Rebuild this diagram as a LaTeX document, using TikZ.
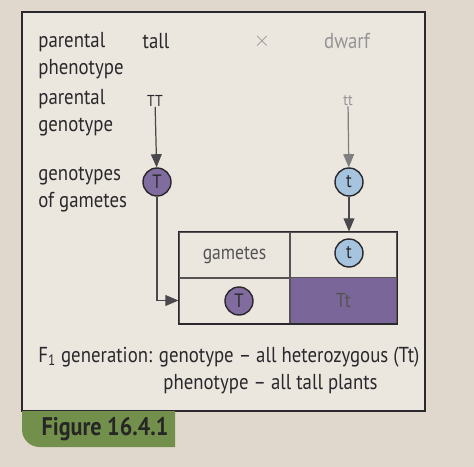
\documentclass[tikz,border=0pt]{standalone}
\usepackage{fontspec}
\setmainfont{PT Sans}[FakeStretch=0.87]
\usepackage{tikz}
\usepackage{xcolor}
\usetikzlibrary{arrows,positioning}

\definecolor{paper}{RGB}{224,216,204}
\definecolor{boxbg}{RGB}{235,230,222}
\definecolor{ink}{RGB}{42,40,44}
\definecolor{purp}{RGB}{128,108,158}
\definecolor{cellpurp}{RGB}{122,102,152}
\definecolor{lblue}{RGB}{166,196,222}
\definecolor{tabgreen}{RGB}{114,144,76}

\tikzset{
  lbl/.style={font=\fontsize{12.3}{15.4}\selectfont, align=left, text=ink, inner sep=0pt},
  faint/.style={lbl, text=ink!50},
  gam/.style={circle, draw=ink, line width=0.8pt, minimum size=0.56cm, inner sep=0pt,
    font=\fontsize{11}{13}\selectfont, text=ink},
  cell/.style={draw=ink!80, line width=0.6pt, minimum width=2.2cm, minimum height=0.92cm, inner sep=0pt,
    font=\fontsize{11.5}{13}\selectfont, text=ink!80},
  arr/.style={-triangle 45, draw=ink!85, line width=0.7pt}
}

\begin{document}
\begin{tikzpicture}[x=0.02cm,y=-0.02cm]
\useasboundingbox (0,0) rectangle (474,467);
\fill[paper] (0,0) rectangle (474,467);

\filldraw[draw=ink, line width=0.9pt, fill=boxbg] (22,12) rectangle (425,411);
\fill[tabgreen] (175,411) -- (175,447) [rounded corners=0.35cm] -- (22,447) [sharp corners] -- (22,411) -- cycle;
\node[font=\fontsize{14.5}{16}\selectfont\bfseries, text=black!85] (fig) at (105,429) {Figure 16.4.1};

\node[lbl, anchor=west] (rowphen) at (38,56) {parental\\phenotype};
\node[lbl, anchor=west] (rowgen) at (38,113) {parental\\genotype};
\node[lbl, anchor=west] (rowgam) at (38,190) {genotypes\\of gametes};

\node[lbl] (tall) at (156,41) {tall};
\node[faint] (cross) at (262,41) {$\times$};
\node[faint] (dwarf) at (347,41) {dwarf};
\node[lbl, font=\fontsize{9}{11}\selectfont] (TT) at (155,101) {TT};
\node[faint, font=\fontsize{9}{11}\selectfont] (tt) at (348,101) {tt};

\node[gam, fill=purp] (gT) at (157,182) {T};
\node[gam, fill=lblue] (gt) at (349,182) {t};

\node[cell, minimum width=2.22cm] (c11) at (234.5,255) {gametes};
\node[cell, minimum width=2.14cm] (c12) at (343.5,255) {};
\node[cell, minimum width=2.22cm] (c21) at (234.5,300.5) {};
\node[cell, minimum width=2.14cm, fill=cellpurp] (c22) at (343.5,300.5) {Tt};
\draw[ink, line width=1pt] (c11.north west) rectangle (c22.south east);

\node[gam, fill=lblue] (tc) at (349,253) {t};
\node[gam, fill=purp] (Tc) at (239,301) {T};

\draw[arr] (TT) -- (gT);
\draw[arr, draw=ink!60] (tt) -- (gt);
\draw[arr] (gT) |- (c21.west);
\draw[arr] (gt) -- (gt |- c12.north);

\node[lbl, anchor=west] (f1) at (38,357) {F\textsubscript{1} generation: genotype -- all heterozygous (Tt)};
\node[lbl, anchor=west] (pheno) at (163,384) {phenotype -- all tall plants};

\end{tikzpicture}
\end{document}
